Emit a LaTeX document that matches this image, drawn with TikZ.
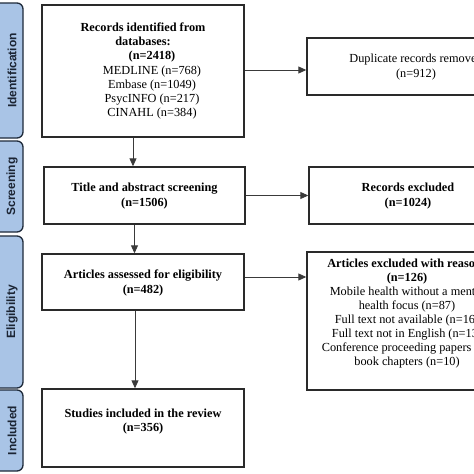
\documentclass[tikz,border=0pt]{standalone}
\usepackage{fontspec}
\setmainfont{Liberation Serif}
\newfontfamily\tabfont{Liberation Sans}
\usetikzlibrary{arrows.meta}
\definecolor{boxc}{HTML}{2A2A2A}
\definecolor{arrc}{HTML}{3A3A3A}
\definecolor{tabfill}{HTML}{A9C4E6}
\definecolor{tabline}{HTML}{1E2A3A}
\definecolor{tabtext}{HTML}{1B2433}
\newcommand{\ind}{\hspace*{18pt}}
\begin{document}
\begin{tikzpicture}[x=1pt,y=-1pt,
  box/.style={draw=boxc,line width=1.4pt,fill=white,inner sep=0pt},
  txt/.style={align=center,font=\fontsize{12.3}{14.1}\selectfont,inner sep=0pt},
  conn/.style={draw=arrc,line width=0.9pt,-{Triangle[length=8pt,width=7pt]}},
  tab/.style={draw=tabline,line width=1.3pt,fill=tabfill,rounded corners=6pt,inner sep=0pt},
  tablabel/.style={rotate=90,font=\tabfont\bfseries\fontsize{12}{14}\selectfont,text=tabtext,inner sep=0pt}]
\path[use as bounding box] (0,0) rectangle (474,474);
\clip (0,0) rectangle (474,474);
\fill[white] (0,0) rectangle (474,474);
% phase tabs
\node[tab,minimum width=35pt,minimum height=135pt] (t1) at (5.5,70.5) {};
\node[tablabel] (l1) at (12,70.5) {Identification};
\node[tab,minimum width=35pt,minimum height=91pt] (t2) at (5.5,186.5) {};
\node[tablabel] (l2) at (12,186.5) {Screening};
\node[tab,minimum width=35pt,minimum height=152pt] (t3) at (5.5,312) {};
\node[tablabel] (l3) at (12,312) {Eligibility};
\node[tab,minimum width=35pt,minimum height=81pt] (t4) at (5.5,430.5) {};
\node[tablabel] (l4) at (12,430.5) {Included};
% left boxes
\node[box,minimum width=202pt,minimum height=132pt] (b1) at (143,71) {};
\node[txt] (x1) at (143,71) {\textbf{Records identified from}\\\textbf{databases:}\\\ind\textbf{(n=2418)}\\\ind MEDLINE (n=768)\\\ind Embase (n=1049)\\\ind PsycINFO (n=217)\\\ind CINAHL (n=384)};
\node[box,minimum width=201pt,minimum height=57pt] (b2) at (144.5,195.5) {};
\node[txt] (x2) at (144.5,196) {\textbf{Title and abstract screening}\\\textbf{(n=1506)}};
\node[box,minimum width=202pt,minimum height=56pt] (b3) at (143,282) {};
\node[txt] (x3) at (143,283) {\textbf{Articles assessed for eligibility}\\\textbf{(n=482)}};
\node[box,minimum width=202pt,minimum height=78pt] (b4) at (143,428) {};
\node[txt] (x4) at (143,421.5) {\textbf{Studies included in the review}\\\textbf{(n=356)}};
% right boxes
\node[box,minimum width=218pt,minimum height=57pt] (d) at (416,66.5) {};
\node[txt] (xd) at (416,67) {Duplicate records removed\\(n=912)};
\node[box,minimum width=198pt,minimum height=57pt] (r) at (408,195.5) {};
\node[txt] (xr) at (408,196) {\textbf{Records excluded}\\\textbf{(n=1024)}};
\node[box,minimum width=200pt,minimum height=138pt] (a) at (407,321) {};
\node[txt] (xa) at (407,313.5) {\textbf{Articles excluded with reasons}\\\textbf{(n=126)}\\Mobile health without a mental\\health focus (n=87)\\Full text not available (n=16)\\Full text not in English (n=13)\\Conference proceeding papers and\\book chapters (n=10)};
% connectors
\draw[conn] ([xshift=-10pt]b1.south) -- ([xshift=-10pt]b1.south |- b2.north);
\draw[conn] ([xshift=-10pt]b2.south) -- ([xshift=-10pt]b2.south |- b3.north);
\draw[conn] ([xshift=-8pt]b3.south) -- ([xshift=-8pt]b3.south |- b4.north);
\draw[conn] ([yshift=1pt]b1.east) -- ([yshift=1pt]b1.east -| d.west);
\draw[conn] (b2.east) -- (b2.east -| r.west);
\draw[conn] ([yshift=5pt]b3.east) -- ([yshift=5pt]b3.east -| a.west);
\end{tikzpicture}
\end{document}
